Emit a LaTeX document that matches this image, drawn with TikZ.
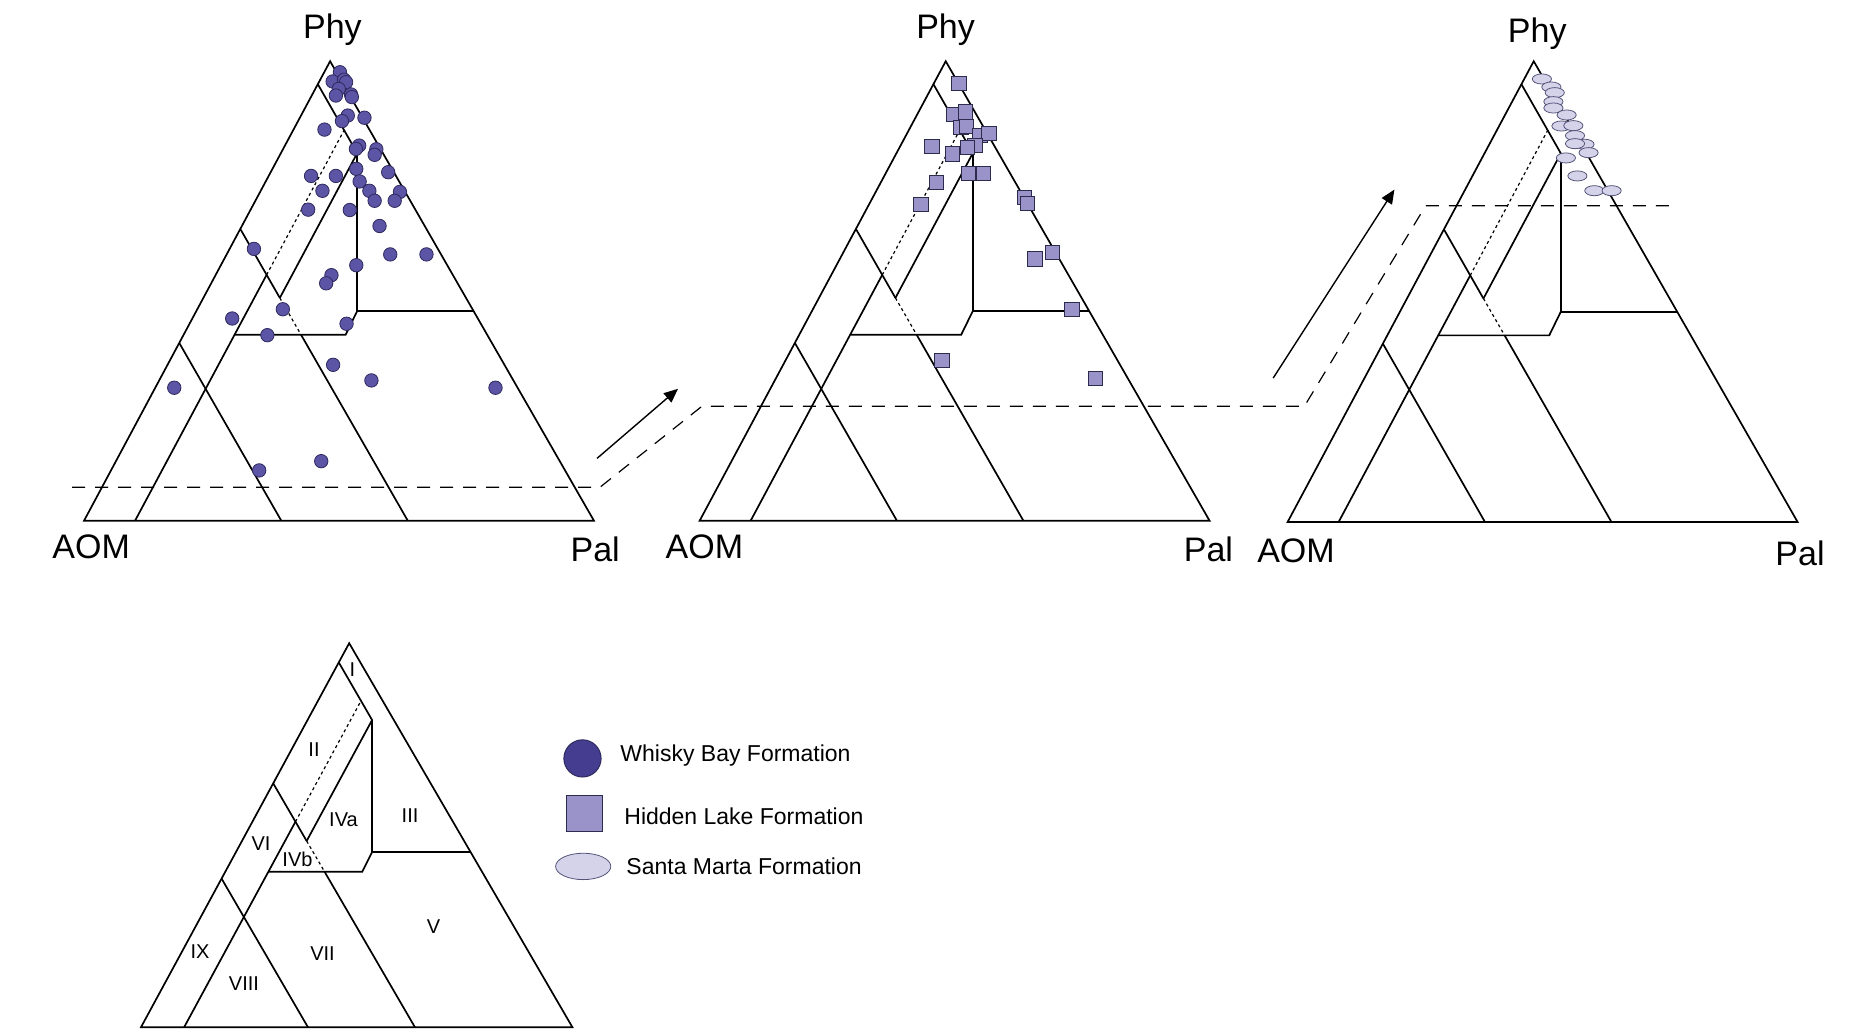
\documentclass[tikz,border=0pt]{standalone}
\usepackage{fontspec}
\setmainfont{Liberation Sans}
\usetikzlibrary{arrows.meta}
\definecolor{wbfill}{HTML}{5C54A4}
\definecolor{wbline}{HTML}{2E2A5E}
\definecolor{wblegend}{HTML}{453D8F}
\definecolor{hlfill}{HTML}{9A93C9}
\definecolor{hlline}{HTML}{2B2B4B}
\definecolor{smfill}{HTML}{D5D3EA}
\definecolor{smline}{HTML}{55557A}
\tikzset{
  edge/.style={line width=0.85pt, black},
  dotline/.style={line width=0.6pt, dash pattern=on 1.5pt off 1.5pt},
  guide/.style={line width=0.6pt, dash pattern=on 6.5pt off 5pt},
  pointer/.style={line width=0.7pt, -{Triangle[length=7pt,width=6pt]}},
  corner/.style={font=\fontsize{17}{17}\selectfont, inner sep=0pt},
  region/.style={font=\fontsize{10}{10}\selectfont, inner sep=0pt},
  legendtext/.style={font=\fontsize{11.5}{12}\selectfont, anchor=west, inner sep=0pt},
  wb/.style={fill=wbfill, draw=wbline, line width=0.4pt},
  hl/.style={fill=hlfill, draw=hlline, line width=0.5pt},
  sm/.style={fill=smfill, draw=smline, line width=0.4pt},
}
\newcommand{\terntri}[4]{%
\begin{scope}[shift={(#1,#2)}, xscale=#3, yscale=-#4]
  \draw[edge] (0,0) -- (1,0) -- (0.4826,1) -- cycle;
  \draw[edge] (0.4585,0.95) -- (0.5357,0.80) -- (0.384,0.485);
  \draw[edge] (0.5357,0.80) -- (0.5357,0.4565) -- (0.7638,0.4565);
  \draw[edge] (0.5357,0.4565) -- (0.513,0.405) -- (0.2955,0.405);
  \draw[edge] (0.1,0) -- (0.358,0.535);
  \draw[dotline] (0.358,0.535) -- (0.51,0.85);
  \draw[edge] (0.3065,0.635) -- (0.384,0.485);
  \draw[dotline] (0.384,0.485) -- (0.4255,0.405);
  \draw[edge] (0.4255,0.405) -- (0.635,0);
  \draw[edge] (0.1868,0.387) -- (0.387,0);
\end{scope}}
\begin{document}
\begin{tikzpicture}[x=0.6pt,y=-0.6pt]
\useasboundingbox (0,0) rectangle (1560,860);
% triangles
\terntri{70}{434}{425}{383}
\terntri{583}{434}{425}{383}
\terntri{1073}{435}{425}{384}
\terntri{117.5}{856}{359.5}{320}
% corner labels
\node[corner] (phy1) at (277,25) {Phy};
\node[corner] (aom1) at (76,456) {AOM};
\node[corner] (pal1) at (496,458) {Pal};
\node[corner] (phy2) at (788,25) {Phy};
\node[corner] (aom2) at (587,456) {AOM};
\node[corner] (pal2) at (1007,458) {Pal};
\node[corner] (phy3) at (1281,28) {Phy};
\node[corner] (aom3) at (1080,459) {AOM};
\node[corner] (pal3) at (1500,461) {Pal};
% guide dashed line and arrows
\coordinate (g0) at (60,406);
\coordinate (g1) at (500,406);
\coordinate (g2) at (585,338.5);
\coordinate (g3) at (1087,338.5);
\coordinate (g4) at (1188,171.5);
\coordinate (g5) at (1395,171.5);
\draw[guide] (g0) -- (g1) -- (g2) -- (g3) -- (g4) -- (g5);
\coordinate (a1s) at (497.5,382); \coordinate (a1e) at (565,324);
\coordinate (a2s) at (1061,315); \coordinate (a2e) at (1162,158);
\draw[pointer] (a1s) -- (a1e);
\draw[pointer] (a2s) -- (a2e);
% Whisky Bay circles
\foreach \p in {(283.3,60.2),(277.2,67.9),(286.7,66.4),(288.4,68.5),(282.3,74.1),(279.9,79.6),(292.5,78.7),(293.2,80.9),(289.8,96.3),(285,100.9),(303.7,98.1),(270.4,108),(299.3,121.3),(296.6,124.1),(313.6,124.4),(312.2,129),(259.2,146.6),(279.9,146.6),(296.9,140.7),(323.5,143.5),(268.7,159),(299.7,151.2),(307.8,159),(333.3,159.9),(312.2,167.3),(328.9,167.3),(256.8,174.7),(291.5,175),(316.3,188.3),(211.6,207.4),(325.2,212),(355.4,212),(296.9,221),(276.2,229.3),(271.8,236.1),(193.5,265.4),(235.7,257.7),(288.8,269.8),(222.8,279.3),(277.6,304),(309.5,317),(145.2,323.1),(412.9,323.1),(267.7,384.3),(216,392)}
  \fill[wb] \p circle[radius=5.6];
% Hidden Lake squares
\foreach \x/\y in {799.2/69.7,794.7/95.5,804.6/93.3,800.7/106.1,805.2/105.5,816.7/113.0,824.0/111.4,812.5/121.4,806.1/123.0,776.8/122.2,793.8/128.3,807.0/144.7,819.4/144.7,780.5/152.2,767.5/170.3,853.5/164.7,856.0/169.7,862.6/215.8,877.1/210.5,893.4/258.0,785.0/300.5,912.7/315.2}
  \draw[hl] (\x-6,\y-6) rectangle (\x+6,\y+6);
% Santa Marta ellipses
\foreach \x/\y in {1284.9/65.8,1292.8/72.5,1295.6/77.2,1294.5/84.7,1294.5/90,1305.5/95.8,1301.2/105,1311.1/104.7,1312.5/113,1320.4/120.2,1312.5/119.7,1323.8/127.2,1304.9/131.6,1314.5/146.6,1328.6/158.9,1343.0/158.9}
  \draw[sm] (\x,\y) ellipse[x radius=8, y radius=4.2];
% region labels
\node[region] (rI) at (293.75,558.3) {I};
\node[region] (rII) at (261.7,625) {II};
\node[region] (rIVa) at (286.25,682.8) {IVa};
\node[region] (rIII) at (341.7,680) {III};
\node[region] (rVI) at (217.5,702.8) {VI};
\node[region] (rIVb) at (247.9,716.1) {IVb};
\node[region] (rV) at (361.25,772.2) {V};
\node[region] (rIX) at (166.7,793.1) {IX};
\node[region] (rVII) at (268.75,795) {VII};
\node[region] (rVIII) at (203.3,820) {VIII};
% legend
\draw[fill=wblegend, draw=wbline, line width=0.5pt] (485.4,632) circle[radius=15.5];
\node[legendtext] (lwb) at (516.7,630) {Whisky Bay Formation};
\draw[hl] (472,663) rectangle (502,693);
\node[legendtext] (lhl) at (520,680) {Hidden Lake Formation};
\draw[sm] (486,722) ellipse[x radius=23, y radius=11];
\node[legendtext] (lsm) at (521.7,722) {Santa Marta Formation};
\end{tikzpicture}
\end{document}
